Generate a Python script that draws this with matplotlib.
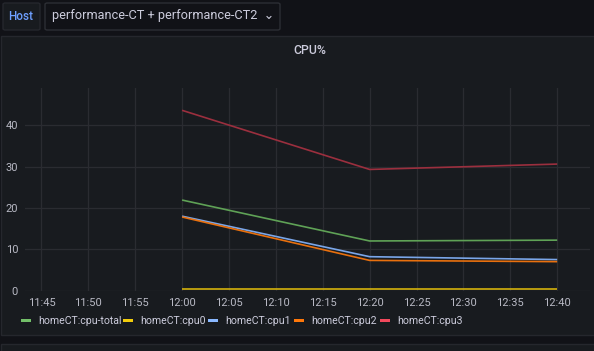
import matplotlib
matplotlib.use("Agg")
import matplotlib.pyplot as plt
import matplotlib.dates as mdates
from matplotlib.patches import FancyBboxPatch, Rectangle
from datetime import datetime, timedelta

plt.rcParams['font.family'] = ['Roboto', 'DejaVu Sans']

# ---- data ----
times = ["12:00", "12:20", "12:40"]
series_names = ["homeCT:cpu-total", "homeCT:cpu0", "homeCT:cpu1", "homeCT:cpu2", "homeCT:cpu3"]
cpu_total = [21.9, 12.0, 12.2]
cpu0 = [0.4, 0.4, 0.4]
cpu1 = [18.0, 8.2, 7.5]
cpu2 = [17.8, 7.3, 7.0]
cpu3 = [43.6, 29.3, 30.6]
legend_colors = ["#73bf69", "#f2cc0c", "#8ab8ff", "#ff780a", "#f2495c"]
line_colors = ["#5fa256", "#d4b20c", "#7aa6e8", "#e8700e", "#9b2f3e"]
yticks = [0, 10, 20, 30, 40]
xtick_labels = ["11:45", "11:50", "11:55", "12:00", "12:05", "12:10", "12:15",
                "12:20", "12:25", "12:30", "12:35", "12:40"]
header_label = "Host"
header_value = "performance-CT + performance-CT2"
title = "CPU%"

W, H = 594, 351
fig = plt.figure(figsize=(W / 100, H / 100), dpi=100)
fig.patch.set_facecolor("#111217")

def fx(px):
    return px / W

def fy(py):
    return 1 - py / H

# main panel
fig.patches.append(Rectangle((fx(1), fy(335)), fx(600) - fx(1), fy(36) - fy(335),
                             transform=fig.transFigure, facecolor="#181b1f",
                             edgecolor="#25272d", lw=1, zorder=-5))
# lower panel stub
fig.patches.append(Rectangle((fx(1), fy(360)), fx(600) - fx(1), fy(344) - fy(360),
                             transform=fig.transFigure, facecolor="#181b1f",
                             edgecolor="#25272d", lw=1, zorder=-5))
# header boxes
fig.patches.append(FancyBboxPatch((fx(3), fy(30)), fx(40) - fx(3), fy(3) - fy(30),
                                  boxstyle="round,pad=0,rounding_size=0.004",
                                  transform=fig.transFigure, facecolor="#181b1f",
                                  edgecolor="#25272d", lw=1, zorder=-5))
fig.patches.append(FancyBboxPatch((fx(45), fy(30)), fx(280) - fx(45), fy(3) - fy(30),
                                  boxstyle="round,pad=0,rounding_size=0.004",
                                  transform=fig.transFigure, facecolor="#111217",
                                  edgecolor="#2c2e34", lw=1, zorder=-5))
fig.text(fx(20.5), fy(16), header_label, color="#6e9fff", fontsize=8.4,
         ha="center", va="center", fontweight="medium")
fig.text(fx(52), fy(16), header_value + "  \u2304", color="#ccccdc", fontsize=9.2,
         ha="left", va="center", family=['Roboto', 'DejaVu Sans'])

fig.text(fx(310), fy(50.5), title, color="#ccccdc", fontsize=8.8, ha="center",
         va="center", fontweight="medium")

ax = fig.add_axes([fx(25), fy(291), fx(590) - fx(25), fy(88) - fy(291)])
ax.set_zorder(2)
ax.set_facecolor("none")

base = datetime(2024, 1, 1, 0, 0)
def t(s):
    h, m = s.split(":")
    return base + timedelta(hours=int(h), minutes=int(m))

xs = [t(s) for s in times]
all_series = [cpu_total, cpu0, cpu1, cpu2, cpu3]
for name, vals, c in zip(series_names, all_series, line_colors):
    ax.plot(xs, vals, color=c, lw=1.2, solid_capstyle="butt", zorder=3)

ax.set_xlim(t("11:43") + timedelta(seconds=15), t("12:43") + timedelta(seconds=30))
ax.set_ylim(-0.1, 49)
ax.set_xticks([t(s) for s in xtick_labels])
ax.xaxis.set_major_formatter(mdates.DateFormatter("%H:%M"))
ax.set_yticks(yticks)
ax.grid(True, color="#2a2c31", lw=0.9, zorder=0)
for sp in ax.spines.values():
    sp.set_visible(False)
ax.tick_params(axis="both", length=0, colors="#b8b9c4", labelsize=8)
ax.tick_params(axis="x", pad=5)
ax.tick_params(axis="y", pad=5)

# legend
leg_x = [21, 123, 208, 294, 380]
for x0, name, c in zip(leg_x, series_names, legend_colors):
    fig.patches.append(Rectangle((fx(x0), fy(322)), fx(10), fy(318.5) - fy(322),
                                 transform=fig.transFigure, facecolor=c, lw=0, zorder=3))
    fig.text(fx(x0 + 17), fy(320.5), name, color="#ccccdc", fontsize=7.6,
             ha="left", va="center")

fig.savefig("out.png", dpi=100, facecolor=fig.get_facecolor())
